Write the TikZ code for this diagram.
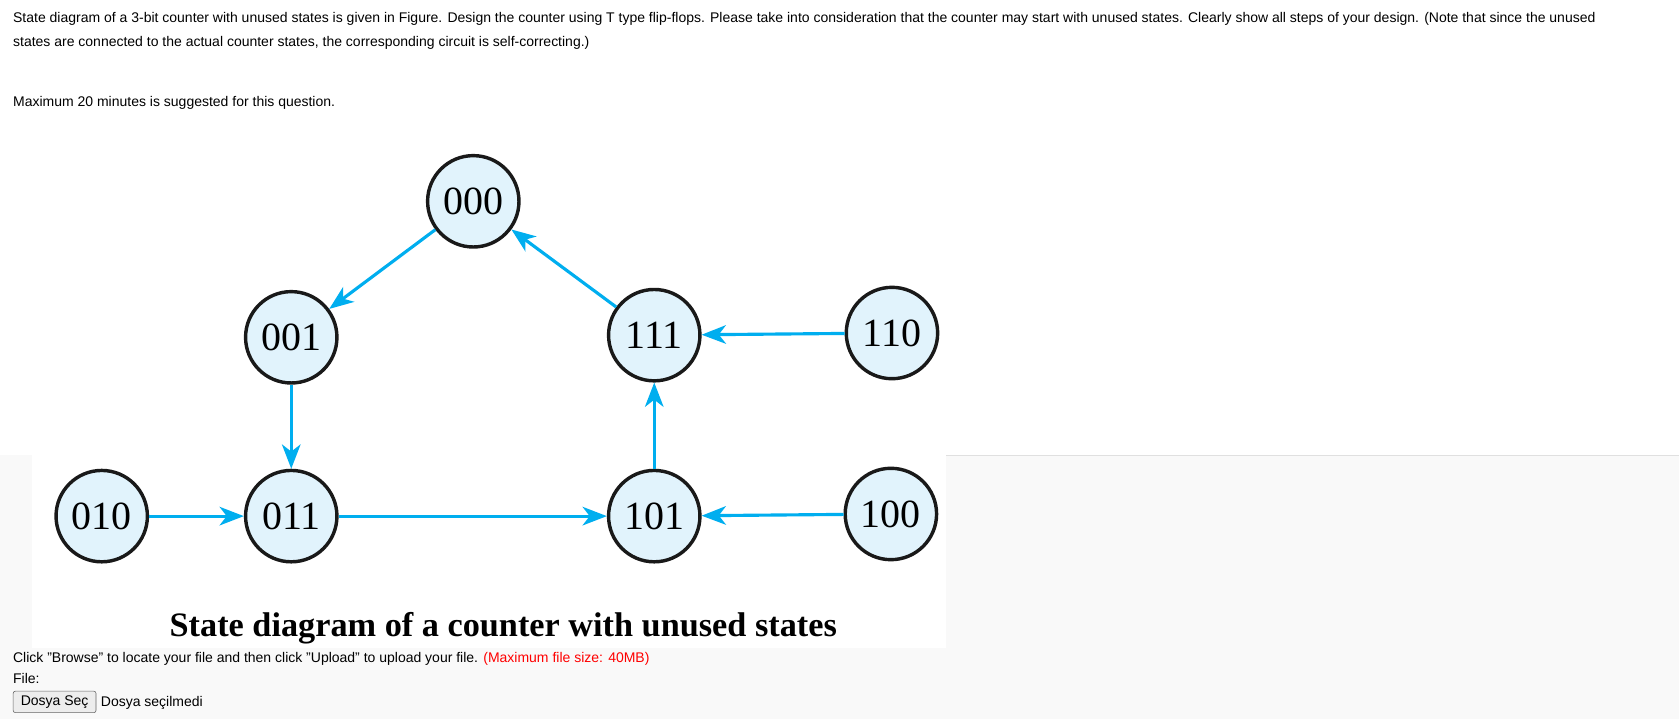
\documentclass[tikz,border=0pt]{standalone}
\usepackage{fontspec}
\setmainfont{Liberation Sans}
\newfontfamily\tnr{Liberation Serif}
\usetikzlibrary{arrows.meta}
\definecolor{arrblue}{HTML}{00AEEF}
\definecolor{nodefill}{HTML}{E1F3FC}
\definecolor{pagegray}{HTML}{F9F9F9}
\begin{document}
\begin{tikzpicture}[x=0.75pt,y=-0.75pt,
  state/.style={circle,draw=black!90,line width=2.4pt,fill=nodefill,minimum size=64pt,inner sep=0pt,font=\tnr\fontsize{28}{28}\selectfont},
  tr/.style={draw=arrblue,line width=2.2pt,-{Stealth[length=17pt,width=13pt,inset=5pt]}},
  txt/.style={anchor=base west,inner sep=0pt,font=\fontsize{9.8}{12}\selectfont}]
\useasboundingbox (0,0) rectangle (1568,671);
\fill[white] (0,0) rectangle (1568,425);
\fill[pagegray] (0,425) rectangle (1568,671);
\draw[black!12,line width=0.6pt] (883,425.5) -- (1568,425.5);
\fill[white] (30,425) rectangle (883,605);
\node[txt] (t1) at (12,21) {State diagram of a 3-bit counter with unused states is given in Figure. Design the counter using T type flip-flops. Please take into consideration that the counter may start with unused states. Clearly show all steps of your design. (Note that since the unused};
\node[txt] (t2) at (12,43) {states are connected to the actual counter states, the corresponding circuit is self-correcting.)};
\node[txt] (t3) at (12,99) {Maximum 20 minutes is suggested for this question.};
\node (s000) [state] at (442,188) {000};
\node (s001) [state] at (272,315) {001};
\node (s111) [state] at (611,313) {111};
\node (s110) [state] at (833,311) {110};
\node (s010) [state] at (95,482) {010};
\node (s011) [state] at (272,482) {011};
\node (s101) [state] at (611,482) {101};
\node (s100) [state] at (832,480) {100};
\draw[tr] (s000) -- (s001);
\draw[tr] (s001) -- (s011);
\draw[tr] (s010) -- (s011);
\draw[tr] (s011) -- (s101);
\draw[tr] (s101) -- (s111);
\draw[tr] (s111) -- (s000);
\draw[tr] (s110) -- (s111);
\draw[tr] (s100) -- (s101);
\node (cap) at (470,587) {\tnr\bfseries\fontsize{24}{24}\selectfont State diagram of a counter with unused states};
\node[txt] (t4) at (12,619) {Click "Browse" to locate your file and then click "Upload" to upload your file. \textcolor{red}{(Maximum file size: 40MB)}};
\node[txt] (t5) at (12,638) {File:};
\node (btn) [draw=black!60,fill=black!7,rounded corners=1.5pt,minimum width=58pt,minimum height=15pt,inner sep=0pt,font=\fontsize{9.8}{12}\selectfont] at (51,655.5) {Dosya Seç};
\node[txt] (t6) at (94,660) {Dosya seçilmedi};
\end{tikzpicture}
\end{document}
